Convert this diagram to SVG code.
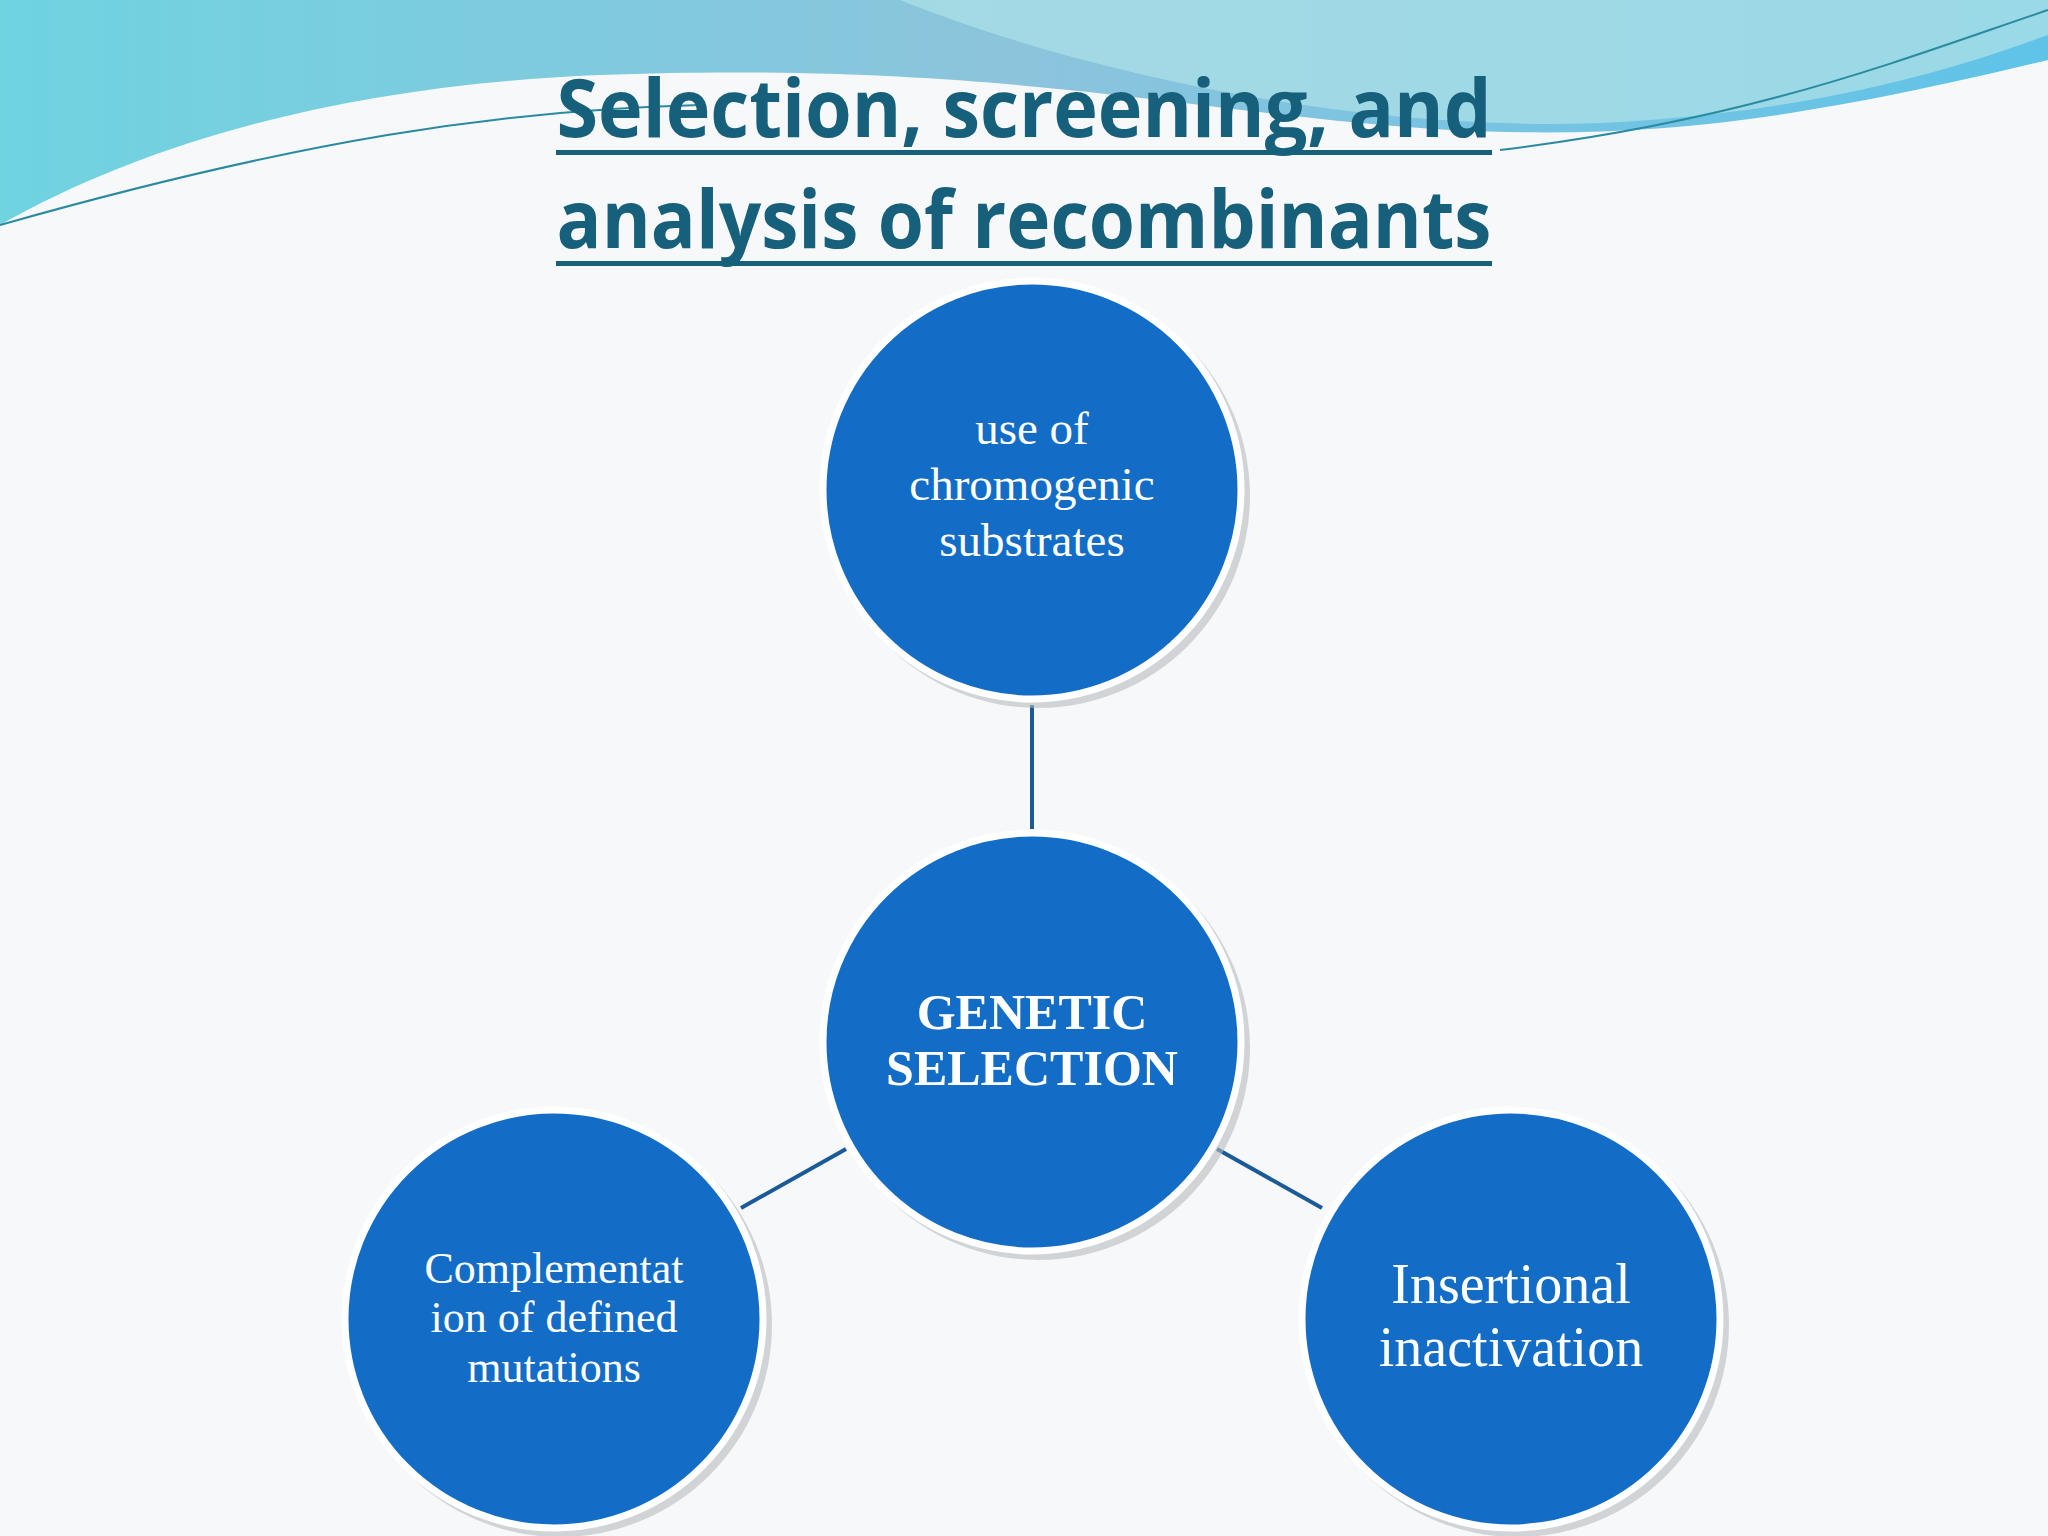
<svg xmlns="http://www.w3.org/2000/svg" width="2048" height="1536" viewBox="0 0 2048 1536">
<defs>
<linearGradient id="wave" x1="0" y1="0" x2="1" y2="0">
<stop offset="0" stop-color="#6fd3e0"/><stop offset="0.5" stop-color="#8cc4dc"/><stop offset="1" stop-color="#5fc3e8"/>
</linearGradient>
<style>
.node{fill:#136dc6;stroke:#ffffff;stroke-width:7}
.shadow{fill:#b8bcc0;opacity:0.6}
.t{font-family:"Liberation Serif",serif;fill:#ffffff;text-anchor:middle}
.conn{stroke:#1a5a96;stroke-width:4;fill:none}
</style>
</defs>
<rect width="2048" height="1536" fill="#f7f8f9"/>
<path d="M0,0 H2048 V60 C1800,120 1650,140 1450,130 C1200,115 1000,60 600,75 C350,85 150,140 0,225 Z" fill="url(#wave)"/>
<path d="M900,0 C1100,80 1400,140 1650,120 C1850,105 1980,60 2048,35 V0 Z" fill="#a9dfe6" opacity="0.8"/>
<path d="M0,225 C300,140 500,110 700,105" stroke="#2a8aa0" stroke-width="2" fill="none"/>
<path d="M1500,150 C1750,120 1900,60 2048,10" stroke="#2a8aa0" stroke-width="2" fill="none"/>
<g id="title" font-family="'Open Sans','Liberation Sans',sans-serif" font-weight="bold" font-size="80" fill="#17607c" text-anchor="middle">
<text x="1024" y="137" textLength="935" lengthAdjust="spacingAndGlyphs">Selection, screening, and</text>
<text x="1024" y="248" textLength="935" lengthAdjust="spacingAndGlyphs">analysis of recombinants</text>
<rect x="556" y="150" width="936" height="5"/>
<rect x="556" y="261" width="936" height="5"/>
</g>
<g id="connectors">
<line class="conn" x1="1032" y1="705" x2="1032" y2="829"/>
<line class="conn" x1="741" y1="1208" x2="846" y2="1149"/>
<line class="conn" x1="1217" y1="1149" x2="1322" y2="1208"/>
</g>
<g id="top">
<circle class="shadow" cx="1038" cy="496" r="212"/>
<circle class="node" cx="1032" cy="490" r="209"/>
<text class="t" font-size="47" x="1032" y="444">use of</text>
<text class="t" font-size="47" x="1032" y="500">chromogenic</text>
<text class="t" font-size="47" x="1032" y="556">substrates</text>
</g>
<g id="center">
<circle class="shadow" cx="1038" cy="1048" r="212"/>
<circle class="node" cx="1032" cy="1042" r="209"/>
<text class="t" font-size="50" font-weight="bold" x="1032" y="1029">GENETIC</text>
<text class="t" font-size="50" font-weight="bold" x="1032" y="1085">SELECTION</text>
</g>
<g id="left">
<circle class="shadow" cx="560" cy="1325" r="212"/>
<circle class="node" cx="554" cy="1319" r="209"/>
<text class="t" font-size="44" x="554" y="1283">Complementat</text>
<text class="t" font-size="44" x="554" y="1332">ion of defined</text>
<text class="t" font-size="44" x="554" y="1382">mutations</text>
</g>
<g id="right">
<circle class="shadow" cx="1517" cy="1325" r="212"/>
<circle class="node" cx="1511" cy="1319" r="209"/>
<text class="t" font-size="56" x="1511" y="1303">Insertional</text>
<text class="t" font-size="56" x="1511" y="1366">inactivation</text>
</g>
</svg>
